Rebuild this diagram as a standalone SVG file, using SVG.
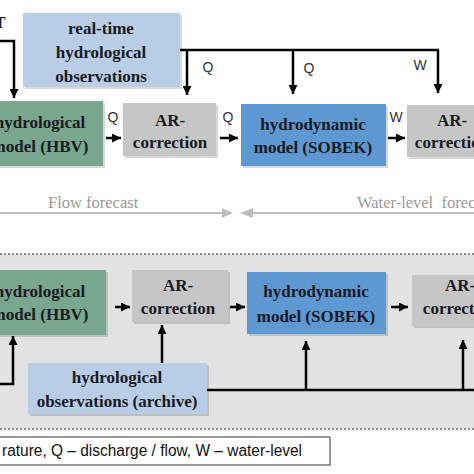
<svg xmlns="http://www.w3.org/2000/svg" width="474" height="474" viewBox="0 0 474 474">
<defs>
<style>
.b{font-family:"Liberation Serif","Times New Roman",serif;font-weight:bold;font-size:17px;fill:#1a1a22;text-anchor:middle}
.lab{font-family:"Liberation Sans",Arial,sans-serif;font-size:14px;fill:#333;text-anchor:middle}
.fc{font-family:"Liberation Serif","Times New Roman",serif;font-size:16.5px;fill:#999}
.c{fill:none;stroke:#000;stroke-width:2.5}
.sh{fill:#000;opacity:0.15}
.green{fill:#78a68f}
.gray{fill:#c6c6c6}
.blue{fill:#5e98d2}
.lblue{fill:#b9cde6}
</style>
<marker id="ah" markerUnits="userSpaceOnUse" markerWidth="9" markerHeight="9" viewBox="0 0 9 9" refX="9" refY="4.5" orient="auto">
<path d="M0,0 L9,4.5 L0,9 z" fill="#000"/>
</marker>
</defs>
<rect width="474" height="474" fill="#fff"/>

<!-- bottom panel -->
<rect x="0" y="254" width="474" height="175" fill="#e2e2e2"/>
<line x1="0" y1="254" x2="474" y2="254" stroke="#8a8a8a" stroke-width="2" stroke-dasharray="2,2"/>
<line x1="0" y1="429" x2="474" y2="429" stroke="#8a8a8a" stroke-width="2" stroke-dasharray="2,2"/>

<!-- top nodes -->
<g id="T"><text class="b" x="0" y="28">T</text></g>
<g id="rt-obs">
<rect class="sh" x="25" y="15" width="157" height="74"/>
<rect class="lblue" x="23" y="13" width="157" height="74"/>
<text class="b" x="101" y="34">real-time</text>
<text class="b" x="101" y="58">hydrological</text>
<text class="b" x="101" y="82">observations</text>
</g>
<g id="hbv-top">
<rect class="sh" x="-21" y="103" width="126" height="65"/>
<rect class="green" x="-23" y="101" width="126" height="65"/>
<text class="b" x="40" y="128">hydrological</text>
<text class="b" x="40" y="152">model (HBV)</text>
</g>
<g id="ar1-top">
<rect class="sh" x="125" y="105" width="93" height="53"/>
<rect class="gray" x="123" y="103" width="93" height="53"/>
<text class="b" x="170" y="126">AR-</text>
<text class="b" x="170" y="148">correction</text>
</g>
<g id="sobek-top">
<rect class="sh" x="243" y="106" width="145" height="62"/>
<rect class="blue" x="241" y="104" width="145" height="62"/>
<text class="b" x="313" y="130">hydrodynamic</text>
<text class="b" x="313" y="153">model (SOBEK)</text>
</g>
<g id="ar2-top">
<rect class="sh" x="409" y="107" width="93" height="52"/>
<rect class="gray" x="407" y="105" width="93" height="52"/>
<text class="b" x="452" y="126">AR-</text>
<text class="b" x="452" y="148">correction</text>
</g>

<!-- forecast labels -->
<g id="forecast">
<text class="fc" x="48" y="208">Flow forecast</text>
<text class="fc" x="357" y="208" xml:space="preserve">Water-level  forecast</text>
<line x1="0" y1="213" x2="223" y2="213" stroke="#bdbdbd" stroke-width="2"/>
<path d="M222,208 L233,213 L222,218 z" fill="#bdbdbd"/>
<line x1="252" y1="213" x2="474" y2="213" stroke="#bdbdbd" stroke-width="2"/>
<path d="M253,208 L240,213 L253,218 z" fill="#bdbdbd"/>
</g>

<!-- bottom nodes -->
<g id="hbv-bot">
<rect class="sh" x="-21" y="272" width="129" height="65"/>
<rect class="green" x="-23" y="270" width="129" height="65"/>
<text class="b" x="40" y="297">hydrological</text>
<text class="b" x="40" y="320">model (HBV)</text>
</g>
<g id="ar1-bot">
<rect class="sh" x="134" y="272" width="96" height="52"/>
<rect class="gray" x="132" y="270" width="96" height="52"/>
<text class="b" x="178" y="291">AR-</text>
<text class="b" x="178" y="314">correction</text>
</g>
<g id="sobek-bot">
<rect class="sh" x="249" y="274" width="139" height="62"/>
<rect class="blue" x="247" y="272" width="139" height="62"/>
<text class="b" x="316" y="297">hydrodynamic</text>
<text class="b" x="316" y="322">model (SOBEK)</text>
</g>
<g id="ar2-bot">
<rect class="sh" x="414" y="277" width="96" height="51"/>
<rect class="gray" x="412" y="275" width="96" height="51"/>
<text class="b" x="460" y="291">AR-</text>
<text class="b" x="460" y="314">correction</text>
</g>
<g id="archive">
<rect class="sh" x="30" y="365" width="179" height="51"/>
<rect class="lblue" x="28" y="363" width="179" height="51"/>
<text class="b" x="117" y="383">hydrological</text>
<text class="b" x="117" y="407">observations (archive)</text>
</g>

<!-- connectors -->
<g id="connectors">
<polyline class="c" points="0,41 14,41 14,98" marker-end="url(#ah)"/>
<line class="c" x1="180" y1="50" x2="439" y2="50"/>
<line class="c" x1="187" y1="50" x2="187" y2="95" marker-end="url(#ah)"/>
<line class="c" x1="293" y1="50" x2="293" y2="94" marker-end="url(#ah)"/>
<line class="c" x1="438" y1="50" x2="438" y2="93" marker-end="url(#ah)"/>
<line class="c" x1="106" y1="138" x2="121" y2="138" marker-end="url(#ah)"/>
<line class="c" x1="220" y1="138" x2="238" y2="138" marker-end="url(#ah)"/>
<line class="c" x1="388" y1="138" x2="405" y2="138" marker-end="url(#ah)"/>
<text class="lab" x="208" y="72">Q</text>
<text class="lab" x="309" y="73">Q</text>
<text class="lab" x="420" y="70">W</text>
<text class="lab" x="113" y="122">Q</text>
<text class="lab" x="228" y="122">Q</text>
<text class="lab" x="396" y="122">W</text>

<line class="c" x1="115" y1="307" x2="130" y2="307" marker-end="url(#ah)"/>
<line class="c" x1="230" y1="307" x2="245" y2="307" marker-end="url(#ah)"/>
<line class="c" x1="391" y1="307" x2="408" y2="307" marker-end="url(#ah)"/>
<line class="c" x1="162" y1="363" x2="162" y2="325" marker-end="url(#ah)"/>
<polyline class="c" points="0,384 13,384 13,336" marker-end="url(#ah)"/>
<line class="c" x1="207" y1="390" x2="474" y2="390"/>
<line class="c" x1="306" y1="390" x2="306" y2="341" marker-end="url(#ah)"/>
<line class="c" x1="463" y1="390" x2="463" y2="340" marker-end="url(#ah)"/>
</g>

<!-- legend -->
<g id="legend">
<rect x="-5" y="437" width="335" height="28" fill="#fff" stroke="#333" stroke-width="1"/>
<text x="2" y="456" font-family="'Liberation Sans',Arial,sans-serif" font-size="16" fill="#111" textLength="300" lengthAdjust="spacingAndGlyphs">rature, Q – discharge / flow, W – water-level</text>
</g>
</svg>
